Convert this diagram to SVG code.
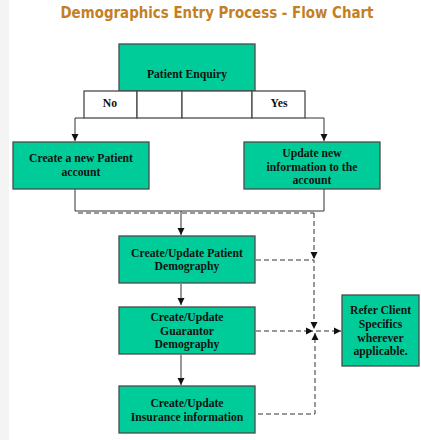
<svg xmlns="http://www.w3.org/2000/svg" width="421" height="440" viewBox="0 0 421 440">
<defs>
<style>
.box{fill:#00cc99;stroke:#4a4a4a;stroke-width:1.3}
.wbox{fill:#ffffff;stroke:#4a4a4a;stroke-width:1.3}
.t{font-family:"Liberation Serif","Times New Roman",serif;font-weight:bold;font-size:11.7px;fill:#111;text-anchor:middle}
.ln{fill:none;stroke:#333;stroke-width:1}
.dl{fill:none;stroke:#333;stroke-width:1;stroke-dasharray:5,3}
</style>
<marker id="ah" markerWidth="8" markerHeight="8" refX="7" refY="4" orient="auto" markerUnits="userSpaceOnUse">
<path d="M0,0.5 L7,4 L0,7.5 Z" fill="#111"/>
</marker>
</defs>
<rect x="0" y="0" width="421" height="440" fill="#ffffff"/>
<rect x="0" y="0" width="9" height="440" fill="#f4f4f4"/>
<text x="217" y="18" text-anchor="middle" textLength="313" lengthAdjust="spacingAndGlyphs" font-family="DejaVu Sans, Verdana, sans-serif" font-weight="bold" font-size="15" fill="#c47f24">Demographics Entry Process - Flow Chart</text>

<g id="connectors">
<path class="ln" d="M84,118 H75 V141" marker-end="url(#ah)"/>
<path class="ln" d="M305,118 H324 V141" marker-end="url(#ah)"/>
<path class="ln" d="M75,189 V211 H324 V189"/>
<path class="dl" d="M78,213 H314"/>
<path class="ln" d="M181,211 V235" marker-end="url(#ah)"/>
<path class="ln" d="M181,284 V305" marker-end="url(#ah)"/>
<path class="ln" d="M181,355 V385" marker-end="url(#ah)"/>
<path class="dl" d="M314,213 V259" marker-end="url(#ah)"/>
<path class="dl" d="M256,260 H314 V329" marker-end="url(#ah)"/>
<path class="dl" d="M256,331 H313" marker-end="url(#ah)"/>
<path class="dl" d="M258,414 H315 V333" marker-end="url(#ah)"/>
<path class="dl" d="M316,331 H341" marker-end="url(#ah)"/>
</g>

<g id="patient-enquiry">
<rect class="box" x="119" y="44" width="136" height="47"/>
<text class="t" x="187" y="78">Patient Enquiry</text>
</g>
<g id="no">
<rect class="wbox" x="84" y="91" width="53" height="27"/>
<text class="t" x="110" y="107">No</text>
</g>
<g id="blank1">
<rect class="wbox" x="137" y="91" width="45" height="27"/>
</g>
<g id="blank2">
<rect class="wbox" x="182" y="91" width="70" height="27"/>
</g>
<g id="yes">
<rect class="wbox" x="252" y="91" width="53" height="27"/>
<text class="t" x="279" y="107">Yes</text>
</g>
<g id="create-account">
<rect class="box" x="13" y="142" width="136" height="47"/>
<text class="t" x="81" y="162">Create a new Patient</text>
<text class="t" x="81" y="176">account</text>
</g>
<g id="update-info">
<rect class="box" x="244" y="142" width="136" height="47"/>
<text class="t" x="312" y="157">Update new</text>
<text class="t" x="312" y="170.5">information to the</text>
<text class="t" x="312" y="184">account</text>
</g>
<g id="patient-demography">
<rect class="box" x="119" y="236" width="136" height="47"/>
<text class="t" x="187" y="257">Create/Update Patient</text>
<text class="t" x="187" y="270">Demography</text>
</g>
<g id="guarantor">
<rect class="box" x="119" y="307" width="136" height="47"/>
<text class="t" x="187" y="321">Create/Update</text>
<text class="t" x="187" y="335">Guarantor</text>
<text class="t" x="187" y="348">Demography</text>
</g>
<g id="insurance">
<rect class="box" x="119" y="386" width="136" height="47"/>
<text class="t" x="187" y="407">Create/Update</text>
<text class="t" x="187" y="421">Insurance information</text>
</g>
<g id="refer">
<rect class="box" x="342" y="295" width="77" height="71"/>
<text class="t" x="380.5" y="314">Refer Client</text>
<text class="t" x="380.5" y="328">Specifics</text>
<text class="t" x="380.5" y="342">wherever</text>
<text class="t" x="380.5" y="355">applicable.</text>
</g>
</svg>
